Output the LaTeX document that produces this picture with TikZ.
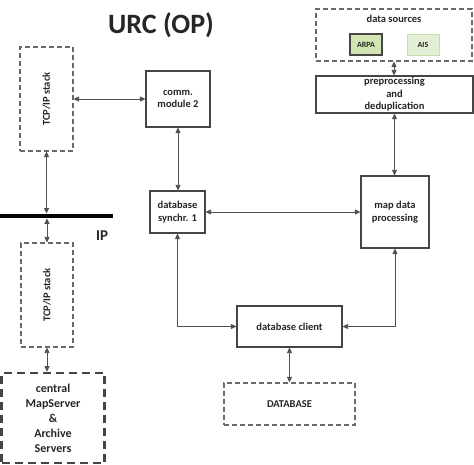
\documentclass[tikz,border=0pt]{standalone}
\usepackage{fontspec}
\setmainfont{Carlito}
\usetikzlibrary{arrows.meta,calc}
\definecolor{boxline}{HTML}{454545}
\definecolor{dashline}{HTML}{6A6A6A}
\definecolor{connline}{HTML}{505050}
\definecolor{arpafill}{HTML}{D3E4B5}
\definecolor{aisfill}{HTML}{E3EFD5}
\definecolor{aisline}{HTML}{C8DCA8}
\begin{document}
\begin{tikzpicture}[x=1pt,y=-1pt,
  txt/.style={font=\bfseries\fontsize{10.5}{12.5}\selectfont, align=center, text=black!85},
  box/.style={txt, draw=boxline, line width=1.1pt, fill=white, inner sep=0pt},
  dbox/.style={txt, draw=dashline, line width=1.1pt, dash pattern=on 5pt off 3pt, inner sep=0pt},
  srcbox/.style={font=\bfseries\fontsize{8}{9}\selectfont, text=black!85, inner sep=0pt, minimum width=32pt, minimum height=21pt},
  conn/.style={draw=connline, line width=0.8pt, {Triangle[length=5.5pt,width=5pt]}-{Triangle[length=5.5pt,width=5pt]}},
]
\useasboundingbox (0,0) rectangle (474,465);

\node[font=\bfseries\fontsize{28}{30}\selectfont, text=black!85] (title) at (161,25) {URC (OP)};

\node[dbox, minimum width=53pt, minimum height=104pt] (tcp1) at (46.5,99) {\rotatebox{90}{TCP/IP stack}};
\node[box, minimum width=64pt, minimum height=56pt] (comm) at (178,99) {comm.\\module 2};
\node[box, minimum width=55pt, minimum height=42pt] (dbs) at (177.5,212) {database\\synchr. 1};

\node[fill=black, inner sep=0pt, minimum width=113pt, minimum height=4.5pt] (bar) at (56.5,216) {};
\node[font=\bfseries\fontsize{15}{17}\selectfont, text=black!85] (ip) at (102,236) {IP};

\node[dbox, minimum width=52pt, minimum height=104pt] (tcp2) at (47,295) {\rotatebox{90}{TCP/IP stack}};
\node[dbox, draw=boxline, line width=2.6pt, dash pattern=on 8pt off 5pt, minimum width=103pt, minimum height=90pt, font=\bfseries\fontsize{12}{15}\selectfont] (central) at (53,418) {central\\MapServer\\\&\\Archive\\Servers};

\node[dbox, minimum width=156pt, minimum height=52pt] (src) at (394,35) {};
\node[txt] (srclabel) at (394,19) {data sources};
\node[srcbox, draw=boxline, line width=1.3pt, fill=arpafill] (arpa) at (366,44.5) {ARPA};
\node[srcbox, draw=aisline, line width=0.8pt, fill=aisfill] (ais) at (423,44.5) {AIS};

\node[box, minimum width=157pt, minimum height=37pt] (pre) at (394.5,94.5) {preprocessing\\and\\deduplication};
\node[box, minimum width=68pt, minimum height=72pt] (map) at (395,212) {map data\\processing};

\node[box, minimum width=105pt, minimum height=41pt] (dbc) at (289.5,326.5) {database client};
\node[dbox, minimum width=131pt, minimum height=42pt] (db) at (289.5,404) {DATABASE};

\draw[conn] (tcp1.east) -- (tcp1.east -| comm.west);
\draw[conn] (comm.south) -- (comm.south |- dbs.north);
\draw[conn] (tcp1.south) -- (tcp1.south |- bar.north);
\draw[conn] (tcp2.north |- bar.south) -- (tcp2.north);
\draw[conn] (tcp2.south) -- (tcp2.south |- central.north);
\draw[conn] (dbs.east) -- (map.west);
\draw[conn] (src.south) -- (src.south |- pre.north);
\draw[conn] (pre.south) -- (pre.south |- map.north);
\draw[conn] (dbs.south) -- (dbs.south |- dbc.west) -- (dbc.west);
\draw[conn] (map.south) -- (map.south |- dbc.east) -- (dbc.east);
\draw[conn] (dbc.south) -- (db.north);
\end{tikzpicture}
\end{document}
